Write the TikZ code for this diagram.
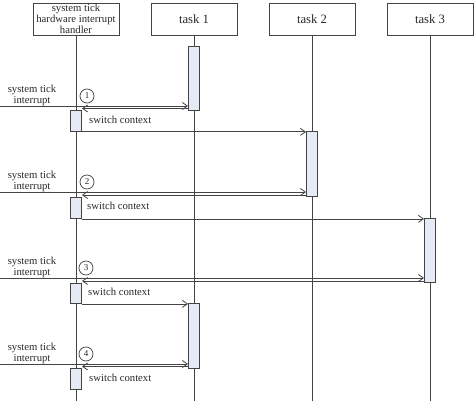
\documentclass[tikz,border=0pt]{standalone}
\usepackage{fontspec}
\setmainfont{Liberation Serif}
\usetikzlibrary{arrows.meta}
\definecolor{ln}{HTML}{444444}
\definecolor{barfill}{HTML}{E6EAF4}
\definecolor{txt}{HTML}{2A2A2A}
\tikzset{
  hdr/.style={draw=ln, line width=0.9pt, fill=white, minimum width=86pt, minimum height=32pt, inner sep=0pt, align=center, text=txt},
  actbar/.style={draw=ln, line width=0.9pt, fill=barfill, minimum width=11pt, inner sep=0pt, anchor=north},
  life/.style={draw=ln, line width=0.8pt},
  msg/.style={draw=ln, line width=0.8pt, -{Straight Barb[length=5pt,width=7pt]}},
  lbl/.style={font=\fontsize{10.7}{11}\selectfont, text=txt, align=center, inner sep=0pt},
  num/.style={draw=ln, circle, line width=0.7pt, minimum size=14pt, inner sep=0pt, font=\fontsize{9}{9}\selectfont, text=txt, fill=white}
}
\begin{document}
\begin{tikzpicture}[x=1pt,y=-1pt]
\useasboundingbox[fill=white] (0,0) rectangle (474,401);
% header boxes
\node[hdr, font=\fontsize{10.7}{11}\selectfont] (H) at (76,19) {system tick\\hardware interrupt\\handler};
\node[hdr, font=\fontsize{12.7}{13}\selectfont] (T1) at (194,19) {task 1};
\node[hdr, font=\fontsize{12.7}{13}\selectfont] (T2) at (312,19) {task 2};
\node[hdr, font=\fontsize{12.7}{13}\selectfont] (T3) at (430,19) {task 3};
\coordinate (bot) at (0,401);
% lifelines
\draw[life] (H.south) -- (H.south |- bot);
\draw[life] (T1.south) -- (T1.south |- bot);
\draw[life] (T2.south) -- (T2.south |- bot);
\draw[life] (T3.south) -- (T3.south |- bot);
% activation bars
\node[actbar, minimum height=64pt] (t1a) at (194,46) {};
\node[actbar, minimum height=65pt] (t2a) at (312,131) {};
\node[actbar, minimum height=64pt] (t3a) at (430,218) {};
\node[actbar, minimum height=65pt] (t1b) at (194,303) {};
\node[actbar, minimum height=21pt] (h1) at (76,110) {};
\node[actbar, minimum height=21pt] (h2) at (76,197) {};
\node[actbar, minimum height=20pt] (h3) at (76,283) {};
\node[actbar, minimum height=21pt] (h4) at (76,368) {};
% interrupt arrows
\coordinate (in1) at (0,106);
\coordinate (in2) at (0,192);
\coordinate (in3) at (0,278);
\coordinate (in4) at (0,364);
\draw[msg] (in1) -- (in1 -| t1a.west);
\draw[msg] (in2) -- (in2 -| t2a.west);
\draw[msg] (in3) -- (in3 -| t3a.west);
\draw[msg] (in4) -- (in4 -| t1b.west);
% return arrows
\coordinate (r1) at (0,108.5);
\coordinate (r2) at (0,195);
\coordinate (r3) at (0,281);
\coordinate (r4) at (0,366.5);
\draw[msg] (r1 -| t1a.west) -- (r1 -| h1.east);
\draw[msg] (r2 -| t2a.west) -- (r2 -| h2.east);
\draw[msg] (r3 -| t3a.west) -- (r3 -| h3.east);
\draw[msg] (r4 -| t1b.west) -- (r4 -| h4.east);
% switch context arrows
\draw[msg] (h1.south east) -- (h1.south east -| t2a.west);
\draw[msg] (h2.south east) -- (h2.south east -| t3a.west);
\draw[msg] (h3.south east) -- (h3.south east -| t1b.west);
% labels
\node[lbl] (l1) at (32,95) {system tick\\interrupt};
\node[lbl] (l2) at (32,181) {system tick\\interrupt};
\node[lbl] (l3) at (32,267) {system tick\\interrupt};
\node[lbl] (l4) at (32,353) {system tick\\interrupt};
\node[num] (n1) at (87,96) {1};
\node[num] (n2) at (87,182) {2};
\node[num] (n3) at (86,268) {3};
\node[num] (n4) at (86,354) {4};
\node[lbl, anchor=west] (s1) at (89,120) {switch context};
\node[lbl, anchor=west] (s2) at (87,206) {switch context};
\node[lbl, anchor=west] (s3) at (88,292) {switch context};
\node[lbl, anchor=west] (s4) at (89,378) {switch context};
\end{tikzpicture}
\end{document}
